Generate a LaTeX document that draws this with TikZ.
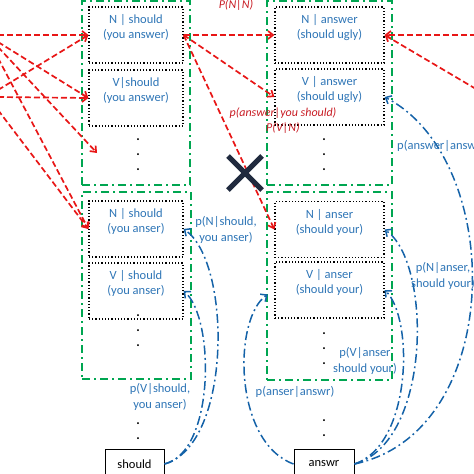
\documentclass[tikz,border=0pt]{standalone}
\usepackage{fontspec}
\setmainfont{Carlito}
\usetikzlibrary{arrows.meta,positioning,calc}
\definecolor{gline}{RGB}{0,166,81}
\definecolor{tblue}{RGB}{46,117,182}
\definecolor{bline}{RGB}{20,98,168}
\definecolor{rline}{RGB}{232,22,22}
\definecolor{rtext}{RGB}{200,28,36}
\definecolor{xmark}{RGB}{32,42,62}
\begin{document}
\begin{tikzpicture}[
  x=1pt,y=-1pt,
  grp/.style={draw=gline, line width=2.4pt, dash pattern=on 8pt off 4pt on 2pt off 4pt, inner sep=0pt},
  tag/.style={draw=black, dotted, line width=1.2pt, minimum width=94pt, minimum height=56pt, inner sep=0pt, font=\fontsize{12.5}{15}\selectfont, text=tblue, align=center, text depth=16.5pt},
  word/.style={draw=black, line width=0.9pt, minimum width=59pt, minimum height=30pt, inner sep=0pt, font=\fontsize{12.5}{15}\selectfont},
  vdots/.style={font=\bfseries\fontsize{13}{15}\selectfont, align=center, inner sep=0pt},
  blab/.style={font=\fontsize{12.5}{15.5}\selectfont, text=tblue, align=center, inner sep=0pt},
  rlab/.style={font=\itshape\fontsize{12}{14}\selectfont, text=rtext, inner sep=0pt},
  hop/.style={-{Straight Barb[length=5pt,width=8pt]}, draw=rline, dash pattern=on 6pt off 3pt, line width=1.7pt},
  back/.style={-{Straight Barb[length=5pt,width=9pt]}, draw=bline, dash pattern=on 9pt off 3.5pt on 1.8pt off 3.5pt, line width=1.5pt},
  cross/.style={draw=xmark, line width=5pt}
]
  \useasboundingbox (0,0) rectangle (474,474);

  \node[grp, minimum width=108pt, minimum height=184pt] (g1) at (136,93) {};
  \node[grp, minimum width=109pt, minimum height=187pt] (g2) at (136.5,285.5) {};
  \node[grp, minimum width=125pt, minimum height=184pt] (g3) at (329.5,93) {};
  \node[grp, minimum width=125pt, minimum height=188pt] (g4) at (329.5,286) {};

  \node[tag] (n1) at (136,35) {N | should\\(you answer)};
  \node[tag] (v1) at (136,98) {V|should\\(you answer)};
  \node[tag] (n2) at (136,229) {N | should\\(you anser)};
  \node[tag] (v2) at (136,291) {V | should\\(you anser)};
  \node[tag, minimum width=109pt] (n3) at (329.5,35) {N | answer\\(should ugly)};
  \node[tag, minimum width=109pt] (v3) at (329.5,97) {V | answer\\(should ugly)};
  \node[tag, minimum width=109pt] (n4) at (329.5,229.5) {N | anser\\(should your)};
  \node[tag, minimum width=109pt] (v4) at (329.5,290) {V | anser\\(should your)};

  \node[vdots] (d1) at (138,155) {.\\.\\.};
  \node[vdots] (d2) at (324,155) {.\\.\\.};
  \node[vdots] (d3) at (138,331) {.\\.\\.};
  \node[vdots] (d4) at (324,349) {.\\.\\.};
  \node[vdots] (d5) at (138,431) {.\\.};
  \node[vdots] (d6) at (324,428) {.\\.};

  \node[word] (should) at (134.5,464) {should};
  \node[word, minimum width=60pt] (answr) at (324,464) {answr};

  \coordinate (i1) at (-2,35);
  \coordinate (i2) at (-2,97);
  \coordinate (i3) at (-2,90);
  \coordinate (i4) at (-2,42);
  \coordinate (i5) at (-2,47);
  \coordinate (i6) at (-2,58);
  \coordinate (i7) at (-2,110);
  \coordinate (i8) at (476,35);
  \coordinate (i9) at (476,89);
  \coordinate (c1) at (97,153);

  \draw[hop] (i1) -- (n1.west);
  \draw[hop] (i2) -- (v1.west);
  \draw[hop] (i3) -- (n1.west);
  \draw[hop] (i4) -- (v1.west);
  \draw[hop] (i5) -- (c1);
  \draw[hop] (i6) -- (n2.west);
  \draw[hop] (i7) -- (n2.west);
  \draw[hop] (n1.east) -- (n3.west);
  \draw[hop] (n1.east) -- (v3.west);
  \draw[hop] (n1.east) -- (n4.west);
  \draw[hop] (i8) -- (n3.east);
  \draw[hop] (i9) -- (n3.east);

  \node[rlab] (pnn) at (236,5) {P(N|N)};
  \node[rlab] (pans) at (283,113) {p(answer|you should)};
  \node[rlab] (pvn) at (283,128) {P(V|N)};

  \draw[cross] (228,156) -- (262,190);
  \draw[cross] (228,190) -- (262,156);

  \draw[back] (should.east) .. controls (215,452) and (215,318) .. (v2.east);
  \draw[back] (should.east) .. controls (232,445) and (232,262) .. (n2.east);
  \draw[back, shorten >=8pt] (answr.west) .. controls (233,442) and (233,318) .. (v4.west);
  \draw[back] (answr.east) .. controls (412,445) and (414,318) .. (v4.east);
  \draw[back] (answr.east) .. controls (432,442) and (432,262) .. (n4.east);
  \draw[back] (answr.east) .. controls (506,432) and (506,160) .. (v3.east);

  \node[blab] (l1) at (226,230) {p(N|should,\\you anser)};
  \node[blab] (l2) at (160,397) {p(V|should,\\you anser)};
  \node[blab, anchor=west] (l3) at (397,146) {p(answer|answr)};
  \node[blab] (l4) at (443,276) {p(N|anser,\\should your)};
  \node[blab] (l5) at (365,361) {p(V|anser\\should your)};
  \node[blab] (l6) at (295,392) {p(anser|answr)};
\end{tikzpicture}
\end{document}
